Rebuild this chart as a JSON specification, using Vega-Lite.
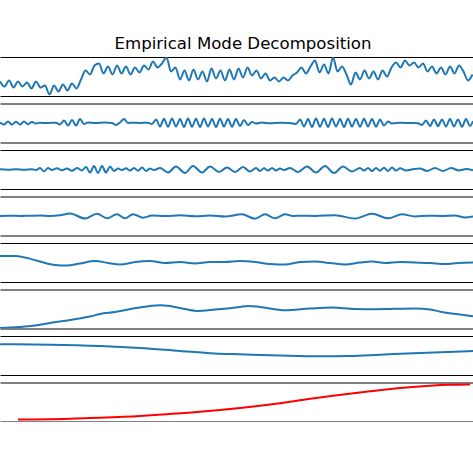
{
  "$schema": "https://vega.github.io/schema/vega-lite/v6.json",
  "background": "white",
  "padding": {"top": 36, "left": 0, "right": 0, "bottom": 0},
  "title": {"text": "Empirical Mode Decomposition", "fontSize": 16.6, "font": "DejaVu Sans", "fontWeight": "normal", "color": "black", "anchor": "middle", "dx": 6.5, "offset": 4.4},
  "config": {
    "view": {"stroke": null},
    "axis": {"domainColor": "black", "domainWidth": 1, "ticks": false, "labels": false, "grid": false, "title": null}
  },
  "spacing": 7.5,
  "datasets": {
    "imf1": [
      {"t":0,"v":-5},{"t":4.5,"v":-10},{"t":9,"v":-4},{"t":13.5,"v":-11},{"t":18,"v":-5},{"t":22.5,"v":-10},{"t":27,"v":-6},{"t":31.5,"v":-12},{"t":36,"v":-5},{"t":40.5,"v":-11},
      {"t":45,"v":-9},{"t":49.5,"v":-18},{"t":54,"v":-9},{"t":58.5,"v":-15},{"t":63,"v":-8},{"t":67.5,"v":-14},{"t":72,"v":-7},{"t":76.5,"v":-12},{"t":81,"v":-3},{"t":85.5,"v":6},
      {"t":90,"v":2},{"t":94.5,"v":11},{"t":99,"v":13},{"t":103.5,"v":3},{"t":108,"v":10},{"t":112.5,"v":2},{"t":117,"v":11},{"t":121.5,"v":3},{"t":126,"v":10},{"t":130.5,"v":2},
      {"t":135,"v":9},{"t":139.5,"v":4},{"t":144,"v":11},{"t":148.5,"v":7},{"t":153,"v":15},{"t":157.5,"v":9},{"t":162,"v":13},{"t":166.5,"v":19},{"t":171,"v":5},{"t":175.5,"v":9},
      {"t":180,"v":-3},{"t":184.5,"v":6},{"t":189,"v":-4},{"t":193.5,"v":7},{"t":198,"v":-3},{"t":202.5,"v":5},{"t":207,"v":-5},{"t":211.5,"v":8},{"t":216,"v":-2},{"t":220.5,"v":6},
      {"t":225,"v":-4},{"t":229.5,"v":7},{"t":234,"v":-3},{"t":238.5,"v":8},{"t":243,"v":-1},{"t":247.5,"v":9},{"t":252,"v":1},{"t":256.5,"v":6},{"t":261,"v":-2},{"t":265.5,"v":3},
      {"t":270,"v":-4},{"t":274.5,"v":-1},{"t":279,"v":-5},{"t":283.5,"v":-1},{"t":288,"v":-4},{"t":292.5,"v":1},{"t":297,"v":4},{"t":301.5,"v":9},{"t":306,"v":3},{"t":310.5,"v":10},
      {"t":315,"v":16},{"t":319.5,"v":4},{"t":324,"v":12},{"t":328.5,"v":3},{"t":333,"v":19},{"t":337.5,"v":5},{"t":342,"v":10},{"t":346.5,"v":2},{"t":351,"v":-8},{"t":355.5,"v":4},
      {"t":360,"v":-3},{"t":364.5,"v":6},{"t":369,"v":-2},{"t":373.5,"v":5},{"t":378,"v":-3},{"t":382.5,"v":6},{"t":387,"v":0},{"t":391.5,"v":9},{"t":396,"v":14},{"t":400.5,"v":9},
      {"t":405,"v":16},{"t":409.5,"v":11},{"t":414,"v":14},{"t":418.5,"v":9},{"t":423,"v":13},{"t":427.5,"v":5},{"t":432,"v":10},{"t":436.5,"v":3},{"t":441,"v":9},{"t":445.5,"v":2},
      {"t":450,"v":10},{"t":454.5,"v":3},{"t":459,"v":11},{"t":463.5,"v":5},{"t":468,"v":-4},{"t":472.5,"v":2}
    ],
    "imf2": [
      {"t":0,"v":0.5},{"t":4,"v":-1.5},{"t":8,"v":1.5},{"t":12,"v":-1.5},{"t":16,"v":1.2},{"t":20,"v":-1.5},{"t":24,"v":1.5},{"t":28,"v":-1.2},{"t":32,"v":1},{"t":36,"v":-0.5},
      {"t":40,"v":0.2},{"t":48,"v":0},{"t":56,"v":0.3},{"t":60,"v":-1.5},{"t":64,"v":2.5},{"t":68,"v":-2.5},{"t":72,"v":3},{"t":76,"v":-2.5},{"t":80,"v":4},{"t":84,"v":-1},
      {"t":88,"v":0.5},{"t":95,"v":0},{"t":105,"v":0.5},{"t":112,"v":0},{"t":116,"v":-2},{"t":120,"v":0.5},{"t":124,"v":4},{"t":128,"v":0},{"t":132,"v":0.3},{"t":140,"v":0},
      {"t":148,"v":0.3},{"t":152,"v":-1},{"t":156,"v":3.5},{"t":160,"v":-3.5},{"t":164,"v":4.2},{"t":168,"v":-3.8},{"t":172,"v":4.5},{"t":176,"v":-3.5},{"t":180,"v":4},{"t":184,"v":-4},
      {"t":188,"v":4.5},{"t":192,"v":-3.8},{"t":196,"v":4.2},{"t":200,"v":-4},{"t":204,"v":4.5},{"t":208,"v":-3.5},{"t":212,"v":4},{"t":216,"v":-4},{"t":220,"v":4.3},{"t":224,"v":-3.5},
      {"t":228,"v":4},{"t":232,"v":-3.8},{"t":236,"v":4},{"t":240,"v":-3},{"t":244,"v":3},{"t":248,"v":-2},{"t":252,"v":1},{"t":256,"v":-0.5},{"t":262,"v":0.5},{"t":270,"v":-0.3},
      {"t":280,"v":0.3},{"t":290,"v":0},{"t":296,"v":-1},{"t":300,"v":3.5},{"t":304,"v":-3.5},{"t":308,"v":4},{"t":312,"v":-4},{"t":316,"v":4.5},{"t":320,"v":-3.8},{"t":324,"v":4.2},
      {"t":328,"v":-4},{"t":332,"v":4.5},{"t":336,"v":-3.5},{"t":340,"v":4},{"t":344,"v":-4},{"t":348,"v":4.3},{"t":352,"v":-3.5},{"t":356,"v":4},{"t":360,"v":-3.8},{"t":364,"v":4.2},
      {"t":368,"v":-3.5},{"t":372,"v":4},{"t":376,"v":-3.8},{"t":380,"v":3.5},{"t":384,"v":-2.5},{"t":388,"v":1.5},{"t":392,"v":-0.5},{"t":400,"v":0.3},{"t":410,"v":0},{"t":418,"v":-0.3},
      {"t":422,"v":-2},{"t":426,"v":2.5},{"t":430,"v":-3},{"t":434,"v":3.5},{"t":438,"v":-3},{"t":442,"v":3.5},{"t":446,"v":-3.5},{"t":450,"v":4},{"t":454,"v":-3.5},{"t":458,"v":3.5},
      {"t":462,"v":-3.8},{"t":466,"v":4},{"t":470,"v":-3},{"t":473,"v":2}
    ],
    "imf3": [
      {"t":0,"v":0.3},{"t":8,"v":-0.2},{"t":16,"v":0.3},{"t":24,"v":-0.2},{"t":32,"v":0.2},{"t":36,"v":-0.5},{"t":40,"v":1.5},{"t":44,"v":-2},{"t":48,"v":1.5},{"t":52,"v":-0.5},
      {"t":57,"v":1.2},{"t":62,"v":-0.8},{"t":67,"v":1},{"t":72,"v":-1.2},{"t":77,"v":1.5},{"t":82,"v":-1},{"t":86,"v":2.5},{"t":90,"v":-3},{"t":94,"v":3.5},{"t":98,"v":-3.5},
      {"t":102,"v":3.5},{"t":106,"v":-3},{"t":110,"v":3},{"t":114,"v":-1.5},{"t":118,"v":1},{"t":122,"v":-0.5},{"t":126,"v":1.2},{"t":130,"v":-1},{"t":134,"v":1.5},{"t":138,"v":-1.2},
      {"t":142,"v":2},{"t":146,"v":-1.5},{"t":150,"v":1},{"t":154,"v":-0.5},{"t":160,"v":1.5},{"t":168,"v":-3},{"t":176,"v":3},{"t":185,"v":-3.5},{"t":193,"v":3.5},{"t":202,"v":-3},
      {"t":210,"v":3},{"t":219,"v":-2.5},{"t":227,"v":2},{"t":235,"v":-2.5},{"t":243,"v":2.5},{"t":250,"v":-2},{"t":256,"v":1.5},{"t":260,"v":-1.5},{"t":264,"v":1.2},{"t":268,"v":-1},
      {"t":272,"v":1.5},{"t":276,"v":-1},{"t":280,"v":1},{"t":284,"v":-0.5},{"t":290,"v":1.5},{"t":298,"v":-2.5},{"t":307,"v":3},{"t":316,"v":-3},{"t":325,"v":3.5},{"t":334,"v":-3.5},
      {"t":343,"v":3},{"t":352,"v":-2},{"t":360,"v":1.5},{"t":364,"v":-1},{"t":368,"v":1.5},{"t":372,"v":-1.5},{"t":376,"v":1.5},{"t":380,"v":-1.2},{"t":384,"v":1.8},{"t":388,"v":-1.5},
      {"t":392,"v":2},{"t":396,"v":-1},{"t":400,"v":1.2},{"t":406,"v":-1},{"t":414,"v":0.5},{"t":420,"v":1},{"t":427,"v":-1.5},{"t":435,"v":1.5},{"t":443,"v":-1.5},{"t":451,"v":1.5},
      {"t":459,"v":-1},{"t":466,"v":0.5},{"t":473,"v":-0.8}
    ],
    "imf4": [
      {"t":0,"v":0},{"t":10,"v":0.3},{"t":20,"v":0},{"t":30,"v":0.3},{"t":40,"v":0.5},{"t":50,"v":0},{"t":60,"v":0.7},{"t":70,"v":2.5},{"t":85,"v":-2.5},{"t":97,"v":2.3},
      {"t":107,"v":-2.3},{"t":117,"v":1.8},{"t":125,"v":-2.3},{"t":133,"v":1.8},{"t":143,"v":-1.7},{"t":152,"v":0.5},{"t":165,"v":0},{"t":180,"v":0.7},{"t":195,"v":-0.3},{"t":210,"v":0.5},
      {"t":225,"v":-0.5},{"t":241.7,"v":1.7},{"t":255,"v":-2.7},{"t":265,"v":1.7},{"t":275,"v":-2.3},{"t":285,"v":1.7},{"t":293,"v":0},{"t":302,"v":0.3},{"t":315,"v":0},{"t":335,"v":0.8},
      {"t":355,"v":-2.5},{"t":372,"v":2.3},{"t":388,"v":-2.3},{"t":402,"v":1.7},{"t":415,"v":-0.5},{"t":428,"v":0.3},{"t":442,"v":0},{"t":455,"v":0.5},{"t":465,"v":-1.5},{"t":473,"v":-0.5}
    ],
    "imf5": [
      {"t":0,"v":6.5},{"t":15,"v":6.5},{"t":25,"v":5},{"t":40,"v":1},{"t":55,"v":-2.5},{"t":67,"v":-3},{"t":80,"v":-1},{"t":95,"v":1.5},{"t":108,"v":-0.5},{"t":120,"v":-2},
      {"t":135,"v":0.5},{"t":150,"v":1.5},{"t":165,"v":-0.5},{"t":180,"v":0.5},{"t":195,"v":-1},{"t":210,"v":0.5},{"t":225,"v":0.5},{"t":240,"v":1.5},{"t":255,"v":0.5},{"t":270,"v":-1.5},
      {"t":285,"v":-2},{"t":300,"v":0.5},{"t":315,"v":1},{"t":330,"v":-0.5},{"t":345,"v":-2},{"t":360,"v":0},{"t":372,"v":1},{"t":385,"v":-0.5},{"t":400,"v":0.5},{"t":415,"v":0},
      {"t":430,"v":-0.5},{"t":445,"v":-1.5},{"t":458,"v":-0.5},{"t":473,"v":0}
    ],
    "imf6": [
      {"t":0,"v":-18.9},{"t":10,"v":-18.6},{"t":20,"v":-18},{"t":35,"v":-16.5},{"t":50,"v":-14},{"t":70,"v":-11},{"t":90,"v":-7.5},{"t":100,"v":-5},{"t":115,"v":-3},{"t":133,"v":0.5},
      {"t":150,"v":3},{"t":160,"v":3.8},{"t":170,"v":3},{"t":180,"v":1},{"t":197,"v":-1.9},{"t":215,"v":-0.5},{"t":240,"v":2.1},{"t":248,"v":3.1},{"t":260,"v":2},{"t":285,"v":-1.2},
      {"t":310,"v":0.5},{"t":332,"v":1.5},{"t":355,"v":0},{"t":375,"v":-0.2},{"t":415,"v":0.5},{"t":430,"v":-0.5},{"t":442,"v":-2.9},{"t":460,"v":-5.5},{"t":473,"v":-7.2}
    ],
    "imf7": [
      {"t":0,"v":11.2},{"t":50,"v":10.8},{"t":100,"v":9.5},{"t":140,"v":7.5},{"t":180,"v":4.5},{"t":215,"v":2},{"t":240,"v":1.2},{"t":280,"v":0},{"t":320,"v":-0.8},{"t":350,"v":-0.5},
      {"t":380,"v":0.8},{"t":420,"v":2.5},{"t":473,"v":4.5}
    ],
    "res": [
      {"t":18,"v":-17.5},{"t":50,"v":-17.3},{"t":100,"v":-15.8},{"t":140,"v":-14},{"t":167,"v":-12.2},{"t":200,"v":-9.8},{"t":240,"v":-6},{"t":270,"v":-2.5},{"t":302,"v":2},{"t":335,"v":6.5},
      {"t":368,"v":10.5},{"t":400,"v":14},{"t":430,"v":16.3},{"t":450,"v":17.2},{"t":470,"v":17.5}
    ]
  },
  "vconcat": [
    {"width": 473, "height": 39, "data": {"name": "imf1"}, "resolve": {"axis": {"x": "independent"}}, "layer": [
      {"mark": {"type": "line", "clip": true, "interpolate": "monotone", "strokeWidth": 2, "color": "#1f77b4"}, "encoding": {"x": {"field": "t", "type": "quantitative", "scale": {"domain": [0, 473], "nice": false}, "axis": {"orient": "bottom"}}, "y": {"field": "v", "type": "quantitative", "scale": {"domain": [-19.5, 19.5], "nice": false}, "axis": null}}},
      {"mark": {"type": "line", "clip": true, "opacity": 0}, "encoding": {"x": {"field": "t", "type": "quantitative", "scale": {"domain": [0, 473], "nice": false}, "axis": {"orient": "top"}}, "y": {"field": "v", "type": "quantitative", "scale": {"domain": [-19.5, 19.5], "nice": false}, "axis": null}}}
    ]},
    {"width": 473, "height": 39, "data": {"name": "imf2"}, "resolve": {"axis": {"x": "independent"}}, "layer": [
      {"mark": {"type": "line", "clip": true, "interpolate": "monotone", "strokeWidth": 2, "color": "#1f77b4"}, "encoding": {"x": {"field": "t", "type": "quantitative", "scale": {"domain": [0, 473], "nice": false}, "axis": {"orient": "bottom"}}, "y": {"field": "v", "type": "quantitative", "scale": {"domain": [-19.5, 19.5], "nice": false}, "axis": null}}},
      {"mark": {"type": "line", "clip": true, "opacity": 0}, "encoding": {"x": {"field": "t", "type": "quantitative", "scale": {"domain": [0, 473], "nice": false}, "axis": {"orient": "top"}}, "y": {"field": "v", "type": "quantitative", "scale": {"domain": [-19.5, 19.5], "nice": false}, "axis": null}}}
    ]},
    {"width": 473, "height": 39, "data": {"name": "imf3"}, "resolve": {"axis": {"x": "independent"}}, "layer": [
      {"mark": {"type": "line", "clip": true, "interpolate": "monotone", "strokeWidth": 2, "color": "#1f77b4"}, "encoding": {"x": {"field": "t", "type": "quantitative", "scale": {"domain": [0, 473], "nice": false}, "axis": {"orient": "bottom"}}, "y": {"field": "v", "type": "quantitative", "scale": {"domain": [-19.5, 19.5], "nice": false}, "axis": null}}},
      {"mark": {"type": "line", "clip": true, "opacity": 0}, "encoding": {"x": {"field": "t", "type": "quantitative", "scale": {"domain": [0, 473], "nice": false}, "axis": {"orient": "top"}}, "y": {"field": "v", "type": "quantitative", "scale": {"domain": [-19.5, 19.5], "nice": false}, "axis": null}}}
    ]},
    {"width": 473, "height": 39, "data": {"name": "imf4"}, "resolve": {"axis": {"x": "independent"}}, "layer": [
      {"mark": {"type": "line", "clip": true, "interpolate": "monotone", "strokeWidth": 2, "color": "#1f77b4"}, "encoding": {"x": {"field": "t", "type": "quantitative", "scale": {"domain": [0, 473], "nice": false}, "axis": {"orient": "bottom"}}, "y": {"field": "v", "type": "quantitative", "scale": {"domain": [-19.5, 19.5], "nice": false}, "axis": null}}},
      {"mark": {"type": "line", "clip": true, "opacity": 0}, "encoding": {"x": {"field": "t", "type": "quantitative", "scale": {"domain": [0, 473], "nice": false}, "axis": {"orient": "top"}}, "y": {"field": "v", "type": "quantitative", "scale": {"domain": [-19.5, 19.5], "nice": false}, "axis": null}}}
    ]},
    {"width": 473, "height": 39, "data": {"name": "imf5"}, "resolve": {"axis": {"x": "independent"}}, "layer": [
      {"mark": {"type": "line", "clip": true, "interpolate": "monotone", "strokeWidth": 2, "color": "#1f77b4"}, "encoding": {"x": {"field": "t", "type": "quantitative", "scale": {"domain": [0, 473], "nice": false}, "axis": {"orient": "bottom"}}, "y": {"field": "v", "type": "quantitative", "scale": {"domain": [-19.5, 19.5], "nice": false}, "axis": null}}},
      {"mark": {"type": "line", "clip": true, "opacity": 0}, "encoding": {"x": {"field": "t", "type": "quantitative", "scale": {"domain": [0, 473], "nice": false}, "axis": {"orient": "top"}}, "y": {"field": "v", "type": "quantitative", "scale": {"domain": [-19.5, 19.5], "nice": false}, "axis": null}}}
    ]},
    {"width": 473, "height": 39, "data": {"name": "imf6"}, "resolve": {"axis": {"x": "independent"}}, "layer": [
      {"mark": {"type": "line", "clip": true, "interpolate": "monotone", "strokeWidth": 2, "color": "#1f77b4"}, "encoding": {"x": {"field": "t", "type": "quantitative", "scale": {"domain": [0, 473], "nice": false}, "axis": {"orient": "bottom"}}, "y": {"field": "v", "type": "quantitative", "scale": {"domain": [-19.5, 19.5], "nice": false}, "axis": null}}},
      {"mark": {"type": "line", "clip": true, "opacity": 0}, "encoding": {"x": {"field": "t", "type": "quantitative", "scale": {"domain": [0, 473], "nice": false}, "axis": {"orient": "top"}}, "y": {"field": "v", "type": "quantitative", "scale": {"domain": [-19.5, 19.5], "nice": false}, "axis": null}}}
    ]},
    {"width": 473, "height": 39, "data": {"name": "imf7"}, "resolve": {"axis": {"x": "independent"}}, "layer": [
      {"mark": {"type": "line", "clip": true, "interpolate": "monotone", "strokeWidth": 2, "color": "#1f77b4"}, "encoding": {"x": {"field": "t", "type": "quantitative", "scale": {"domain": [0, 473], "nice": false}, "axis": {"orient": "bottom"}}, "y": {"field": "v", "type": "quantitative", "scale": {"domain": [-19.5, 19.5], "nice": false}, "axis": null}}},
      {"mark": {"type": "line", "clip": true, "opacity": 0}, "encoding": {"x": {"field": "t", "type": "quantitative", "scale": {"domain": [0, 473], "nice": false}, "axis": {"orient": "top"}}, "y": {"field": "v", "type": "quantitative", "scale": {"domain": [-19.5, 19.5], "nice": false}, "axis": null}}}
    ]},
    {"width": 473, "height": 39, "data": {"name": "res"}, "resolve": {"axis": {"x": "independent"}}, "layer": [
      {"mark": {"type": "line", "clip": true, "interpolate": "monotone", "strokeWidth": 2, "color": "#ff0000"}, "encoding": {"x": {"field": "t", "type": "quantitative", "scale": {"domain": [0, 473], "nice": false}, "axis": {"orient": "bottom"}}, "y": {"field": "v", "type": "quantitative", "scale": {"domain": [-19.5, 19.5], "nice": false}, "axis": null}}},
      {"mark": {"type": "line", "clip": true, "opacity": 0}, "encoding": {"x": {"field": "t", "type": "quantitative", "scale": {"domain": [0, 473], "nice": false}, "axis": {"orient": "top"}}, "y": {"field": "v", "type": "quantitative", "scale": {"domain": [-19.5, 19.5], "nice": false}, "axis": null}}}
    ]}
  ]
}
